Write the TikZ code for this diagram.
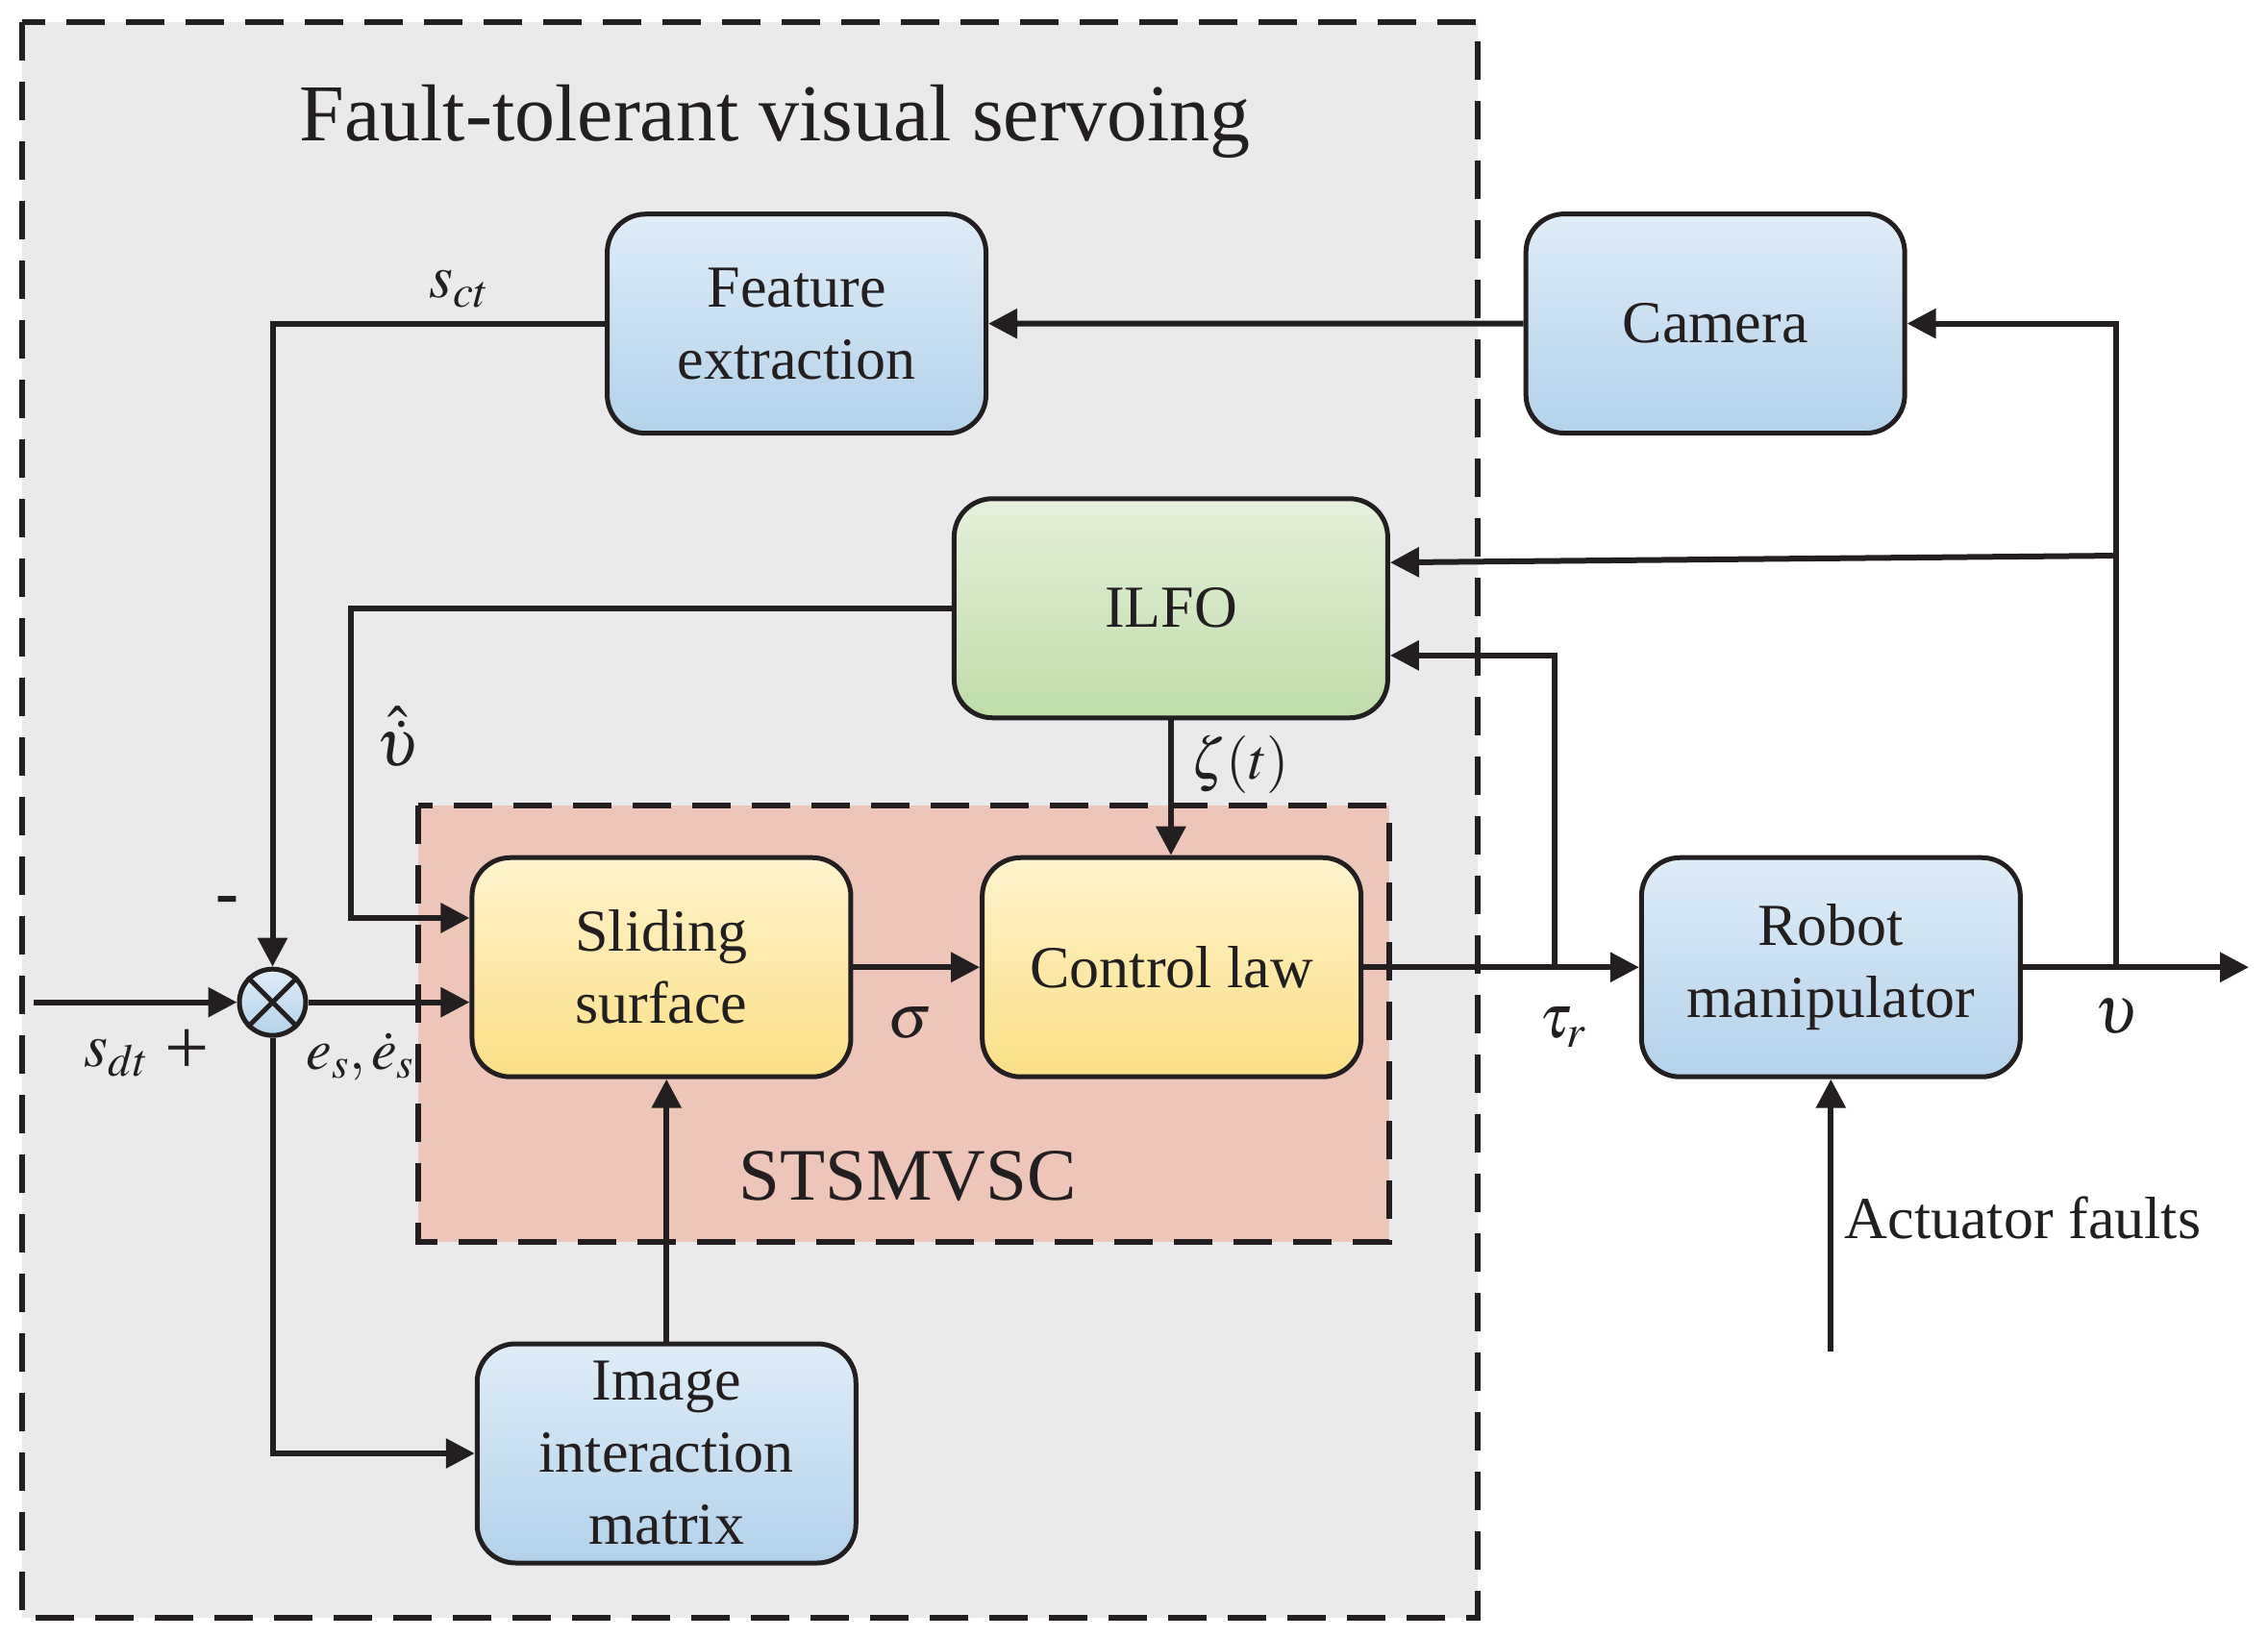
\documentclass[tikz,border=0pt]{standalone}
\usepackage{mathptmx}
\usepackage{fontspec}
\setmainfont{Liberation Serif}
\usetikzlibrary{arrows.meta,calc}
\definecolor{lc}{HTML}{231F20}
\definecolor{bgray}{RGB}{234,234,236}
\definecolor{salmon}{RGB}{237,198,185}
\definecolor{blueTop}{RGB}{246,250,254}
\definecolor{blueDark}{RGB}{176,208,234}
\definecolor{blueBot}{RGB}{196,222,242}
\definecolor{greenTop}{RGB}{248,251,244}
\definecolor{greenDark}{RGB}{189,219,166}
\definecolor{greenBot}{RGB}{201,226,187}
\definecolor{yelTop}{RGB}{255,253,240}
\definecolor{yelDark}{RGB}{251,222,130}
\definecolor{yelBot}{RGB}{252,231,150}
\pgfdeclareverticalshading{blueshade}{100bp}{color(0bp)=(blueBot); color(22bp)=(blueDark); color(100bp)=(blueTop)}
\pgfdeclareverticalshading{greenshade}{100bp}{color(0bp)=(greenBot); color(22bp)=(greenDark); color(100bp)=(greenTop)}
\pgfdeclareverticalshading{yelshade}{100bp}{color(0bp)=(yelBot); color(22bp)=(yelDark); color(100bp)=(yelTop)}
\newcommand\boxfont{\fontsize{62}{75}\selectfont}
\newcommand\lblfont{\fontsize{64}{77}\selectfont}
\newcommand\titlefont{\fontsize{84}{100}\selectfont}
\tikzset{
  blk/.style={draw=lc, line width=5pt, rounded corners=40pt, minimum width=394pt,
    minimum height=228pt, align=center, font=\boxfont, inner sep=0pt, text=lc},
  bluebox/.style={blk, shade, shading=blueshade},
  greenbox/.style={blk, shade, shading=greenshade},
  yelbox/.style={blk, shade, shading=yelshade},
  arr/.style={draw=lc, line width=6pt, -{Triangle[length=30pt,width=30pt]}},
  ln/.style={draw=lc, line width=6pt},
  dsh/.style={draw=lc, line width=6pt, dash pattern=on 40pt off 22pt},
  lbl/.style={font=\lblfont, inner sep=0pt, text=lc},
}
\begin{document}
\begin{tikzpicture}[x=1.512pt,y=-1.512pt]
\useasboundingbox (0,0) rectangle (1560.2,1125.7);
% background regions
\path[fill=bgray] (15.3,15) rectangle (1016.5,1113);
\draw[dsh] (15.3,15) rectangle (1016.5,1113);
\path[fill=salmon] (288,554) rectangle (956,854.5);
\draw[dsh] (288,554) rectangle (956,854.5);
% title and group label
\node[font=\titlefont, anchor=base, inner sep=0pt, text=lc] (title) at (533,97) {Fault-tolerant visual servoing};
\node[font=\fontsize{77}{90}\selectfont, anchor=base, inner sep=0pt, text=lc] (stlbl) at (624.5,825.5) {STSMVSC};
% blocks
\node[bluebox] (fe) at (548,222.7) {Feature\\extraction};
\node[bluebox] (cam) at (1180,222.6) {Camera};
\node[greenbox, minimum width=451pt] (ilfo) at (805.5,418.5) {ILFO};
\node[yelbox] (ss) at (455,665.5) {Sliding\\surface};
\node[yelbox] (cl) at (806,665.5) {Control law};
\node[bluebox] (rm) at (1259.5,665.5) {Robot\\manipulator};
\node[bluebox] (iim) at (458.5,1000) {Image\\interaction\\matrix};
\node[circle, draw=lc, line width=5pt, minimum size=69pt, inner sep=0pt, shade, shading=blueshade] (sum) at (187.5,689.6) {};
\draw[lc, line width=5pt] (sum.north west) -- (sum.south east);
\draw[lc, line width=5pt] (sum.north east) -- (sum.south west);
% coordinates
\coordinate (inp) at (23,689.6);
\coordinate (k1) at (241.5,631.6);
\coordinate (b1) at (1069.5,665.5);
\coordinate (b2) at (1455.7,665.5);
\coordinate (b3) at (1455.7,382.3);
\coordinate (outp) at (1547,665.5);
\coordinate (af) at (1259.5,930);
% connectors
\draw[arr] (inp) -- (sum.west);
\draw[arr] (sum.east) -- (sum.east -| ss.west);
\draw[arr] (fe.west) -| (sum.north);
\draw[arr] (cam.west) -- (fe.east);
\draw[arr] (sum.south) |- (iim.west);
\draw[arr] (ilfo.west) -| (k1) -- (k1 -| ss.west);
\draw[arr] (ilfo.south) -- (ilfo.south |- cl.north);
\draw[arr] (ss.east) -- (cl.west);
\draw[arr] (iim.north) -- (iim.north |- ss.south);
\draw[arr] (cl.east) -- (rm.west);
\draw[arr] (b1) |- ([yshift=-49.1pt]ilfo.east);
\draw[arr] (rm.east) -- (outp);
\draw[arr] (b2) |- (cam.east);
\draw[arr] (b3) -- ([yshift=47.6pt]ilfo.east);
\draw[arr] (af) -- (rm.south);
% labels
\node[lbl] (lsct) at (316,199) {$s_{ct}$};
\node[lbl] (lsdt) at (80,728) {$s_{dt}$};
\node[lbl, font=\fontsize{82}{90}\selectfont] (lplus) at (129,724) {+};
\node[lbl, font=\fontsize{72}{80}\selectfont\bfseries] (lminus) at (156.5,623.5) {-};
\node[lbl, anchor=east, font=\fontsize{60}{72}\selectfont] (les) at (285,727) {$e_s,\dot{e}_s$};
\node[lbl, font=\fontsize{68}{80}\selectfont] (lvh) at (274,507) {$\hat{\dot{\upsilon}}$};
\node[lbl, font=\fontsize{60}{72}\selectfont] (lzeta) at (853,526) {$\zeta(t)$};
\node[lbl] (lsig) at (626,704) {$\sigma$};
\node[lbl] (ltau) at (1075,707) {$\tau_r$};
\node[lbl, font=\fontsize{70}{80}\selectfont] (lups) at (1456,699) {$\upsilon$};
\node[font=\boxfont, anchor=base west, inner sep=0pt, text=lc] (lact) at (1269,852) {Actuator faults};
\end{tikzpicture}
\end{document}
